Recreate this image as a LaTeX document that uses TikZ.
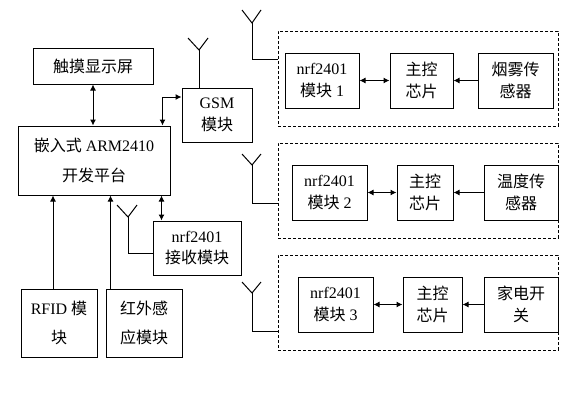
\documentclass[tikz,border=0pt]{standalone}
\usepackage{fontspec}
\setmainfont{Liberation Serif}
\newfontfamily\cjkf{Noto Sans CJK SC}
\newcommand\zh[1]{{\cjkf #1}}
\usetikzlibrary{arrows.meta}
\begin{document}
\begin{tikzpicture}[x=1pt,y=-1pt,
  box/.style={draw,line width=1pt,inner sep=0pt,align=center,font=\fontsize{16}{21.5}\selectfont},
  dbox/.style={draw,line width=1pt,dash pattern=on 3pt off 2pt,inner sep=0pt},
  conn/.style={line width=1pt},
  arr/.style={conn,-{Latex[length=6pt,width=6pt]}},
  darr/.style={conn,{Latex[length=6pt,width=6pt]}-{Latex[length=6pt,width=6pt]}}]
\useasboundingbox (0,0) rectangle (572,402);
% left part
\node[box,minimum width=120pt,minimum height=36pt] (touch) at (93,66) {\zh{触摸显示屏}};
\node[box,minimum width=152pt,minimum height=69pt] (arm) at (94,160.5) {\zh{嵌入式} ARM2410\\[8pt]\zh{开发平台}};
\node[box,minimum width=70pt,minimum height=54pt] (gsm) at (217,115) {GSM\\\zh{模块}};
\node[box,minimum width=88pt,minimum height=54pt] (nrfr) at (197,248) {nrf2401\\\zh{接收模块}};
\node[box,minimum width=76pt,minimum height=68pt] (rfid) at (59,323) {RFID \zh{模}\\[8pt]\zh{块}};
\node[box,minimum width=76pt,minimum height=68pt] (ir) at (144,323) {\zh{红外感}\\[8pt]\zh{应模块}};
% right groups
\node[dbox,minimum width=280pt,minimum height=95pt] (d1) at (418,78.5) {};
\node[dbox,minimum width=280pt,minimum height=95pt] (d2) at (418,190.5) {};
\node[dbox,minimum width=280pt,minimum height=95pt] (d3) at (418,302.5) {};
\node[box,minimum width=74pt,minimum height=55pt] (m1) at (322,80.5) {nrf2401\\\zh{模块} 1};
\node[box,minimum width=63pt,minimum height=55pt] (c1) at (421.5,80.5) {\zh{主控}\\\zh{芯片}};
\node[box,minimum width=75pt,minimum height=55pt] (s1) at (515.5,80.5) {\zh{烟雾传}\\\zh{感器}};
\node[box,minimum width=75pt,minimum height=55pt] (m2) at (329.5,192.5) {nrf2401\\\zh{模块} 2};
\node[box,minimum width=56pt,minimum height=55pt] (c2) at (425,192.5) {\zh{主控}\\\zh{芯片}};
\node[box,minimum width=74pt,minimum height=55pt] (s2) at (521,192.5) {\zh{温度传}\\\zh{感器}};
\node[box,minimum width=75pt,minimum height=55pt] (m3) at (335.5,304.5) {nrf2401\\\zh{模块} 3};
\node[box,minimum width=59pt,minimum height=55pt] (c3) at (432.5,304.5) {\zh{主控}\\\zh{芯片}};
\node[box,minimum width=74pt,minimum height=55pt] (s3) at (521,304.5) {\zh{家电开}\\\zh{关}};
% connectors left
\draw[darr] (touch.south) -- (touch.south |- arm.north);
\draw[darr] ([xshift=-8pt]arm.north east) |- ([yshift=18pt]gsm.west);
\draw[darr] ([xshift=9pt]nrfr.north west) -- ([xshift=9pt]nrfr.north west |- arm.south);
\draw[arr] ([xshift=-6pt]rfid.north) -- ([xshift=-6pt]rfid.north |- arm.south);
\draw[arr] ([xshift=5pt]ir.north west) -- ([xshift=5pt]ir.north west |- arm.south);
% connectors right
\draw[darr] (m1.east) -- (c1.west);
\draw[arr] (s1.west) -- (c1.east);
\draw[darr] (m2.east) -- (c2.west);
\draw[arr] (s2.west) -- (c2.east);
\draw[darr] (m3.east) -- (c3.west);
\draw[arr] (s3.west) -- (c3.east);
% antennas
\coordinate (ag) at (199,50);
\draw[conn] (188,38) -- (ag) -- (208,38);
\draw[conn] (ag) -- (ag |- gsm.north);
\coordinate (ar) at (128,217);
\draw[conn] (117,205) -- (ar) -- (137,205);
\draw[conn] (ar) |- ([yshift=-5pt]nrfr.west);
\coordinate (a1) at (252,23);
\draw[conn] (242,10) -- (a1) -- (261,10);
\draw[conn] (a1) |- ([yshift=19.5pt]d1.west);
\coordinate (a2) at (252,165);
\draw[conn] (242,154) -- (a2) -- (261,154);
\draw[conn] (a2) |- ([yshift=-12.5pt]d2.west);
\coordinate (a3) at (252,293);
\draw[conn] (242,282) -- (a3) -- (261,282);
\draw[conn] (a3) |- ([yshift=-28.5pt]d3.west);
\end{tikzpicture}
\end{document}
